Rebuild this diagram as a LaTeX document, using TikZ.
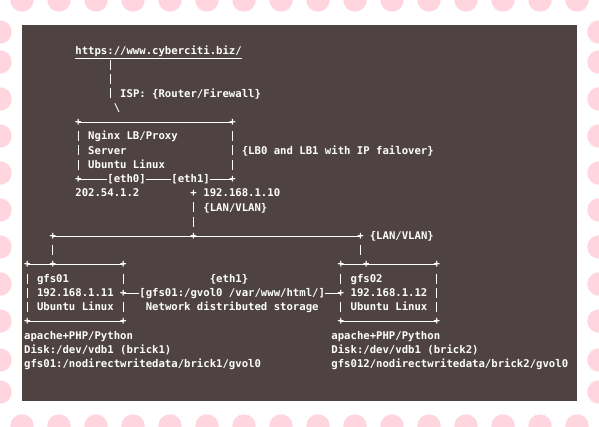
\documentclass[tikz,border=0pt]{standalone}
\usepackage{fontspec}
\setmonofont{DejaVu Sans Mono}
\usepackage{tikz}
\definecolor{board}{RGB}{78,66,67}
\definecolor{dotpink}{RGB}{255,214,224}
\tikzstyle{ascii} = [text=white, inner sep=0pt, anchor=base west,
font=\ttfamily\bfseries\fontsize{10.63pt}{14.25pt}\selectfont]
\tikzstyle{jn} = [text=white, inner sep=0pt,
font=\ttfamily\bfseries\fontsize{10.63pt}{14.25pt}\selectfont]
\tikzstyle{hwire} = [draw=white, line width=1pt]
\tikzstyle{vbar} = [draw=white, line width=1.1pt, dash pattern=on 10pt off 4.25pt,
shorten <=8.75pt, shorten >=9.75pt]

\begin{document}
\begin{tikzpicture}[x=1pt,y=-1pt]
		\useasboundingbox (0,0) rectangle (599,426);
		\clip (0,0) rectangle (599,426);
		\fill[white] (0,0) rectangle (599,426);
		\foreach \x in {22,59,...,577} {
			\fill[dotpink] (\x,0) circle (11.7pt);
			\fill[dotpink] (\x,426) circle (11.7pt);
		}
		\foreach \y in {32,62,99,136,173,210,247,284,321,360,392} {
			\fill[dotpink] (0,\y) circle (11.7pt);
			\fill[dotpink] (599,\y) circle (11.7pt);
		}
		\fill[board] (22,25) rectangle (577,401);
		
		% uplink
		\node[ascii] (url) at (75.2,54.4) {\underline{https://www.cyberciti.biz/}};
		\coordinate (urltap) at (110.4,51);
		\coordinate (isptap) at (110.4,108);
		\node[ascii] (isp) at (120,97.15) {ISP: \{Router/Firewall\}};
		\node[ascii] (bslash) at (113.6,111.4) {\textbackslash};
		
		% load balancer
		\node[jn] (lbtl) at (78.4,122.25) {+};
		\node[jn] (lbtr) at (232.5,122.25) {+};
		\node[jn] (lbbl) at (78.4,179.25) {+};
		\node[jn] (lbbr) at (232.5,179.25) {+};
		\node[ascii] (lbname) at (88,139.9) {Nginx LB/Proxy};
		\node[ascii] (lbrole) at (88,154.15) {Server};
		\node[ascii] (lbos) at (88,168.4) {Ubuntu Linux};
		\node[ascii] (lbnote) at (241.6,154.15) {\{LB0 and LB1 with IP failover\}};
		\node[ascii] (eth0) at (107.2,182.65) {[eth0]};
		\node[ascii] (eth1) at (171.2,182.65) {[eth1]};
		\node[ascii] (pubip) at (75.2,196.9) {202.54.1.2};
		\node[jn] (lbout) at (193.6,193.5) {+};
		\node[ascii] (lanip) at (203.2,196.9) {192.168.1.10};
		\node[ascii] (lantag) at (203.2,211.15) {\{LAN/VLAN\}};
		
		% lan
		\node[jn] (lanl) at (52.8,236.25) {+};
		\node[jn] (lanm) at (193.6,236.25) {+};
		\node[jn] (lanr) at (360.5,236.25) {+};
		\node[ascii] (lantag2) at (369.6,239.65) {\{LAN/VLAN\}};
		\coordinate (g2drop) at (360.5,264.75);
		
		% gfs01
		\node[jn] (g1tl) at (27.2,264.75) {+};
		\node[jn] (g1tm) at (52.8,264.75) {+};
		\node[jn] (g1tr) at (123.2,264.75) {+};
		\node[jn] (g1r) at (123.2,293.25) {+};
		\node[jn] (g1bl) at (27.2,321.75) {+};
		\node[jn] (g1br) at (123.2,321.75) {+};
		\node[ascii] (g1name) at (36.8,282.4) {gfs01};
		\node[ascii] (g1ip) at (36.8,296.65) {192.168.1.11};
		\node[ascii] (g1os) at (36.8,310.9) {Ubuntu Linux};
		\node[ascii] (g1sw) at (24,339.4) {apache+PHP/Python};
		\node[ascii] (g1disk) at (24,353.65) {Disk:/dev/vdb1 (brick1)};
		\node[ascii] (g1brick) at (24,367.9) {gfs01:/nodirectwritedata/brick1/gvol0};
		
		% gfs02
		\node[jn] (g2tl) at (340.8,264.75) {+};
		\node[jn] (g2tm) at (366.4,264.75) {+};
		\node[jn] (g2tr) at (436.8,264.75) {+};
		\node[jn] (g2l) at (340.8,293.25) {+};
		\node[jn] (g2bl) at (340.8,321.75) {+};
		\node[jn] (g2br) at (436.8,321.75) {+};
		\node[ascii] (g2name) at (350.4,282.4) {gfs02};
		\node[ascii] (g2ip) at (350.4,296.65) {192.168.1.12};
		\node[ascii] (g2os) at (350.4,310.9) {Ubuntu Linux};
		\node[ascii] (g2sw) at (331.2,339.4) {apache+PHP/Python};
		\node[ascii] (g2disk) at (331.2,353.65) {Disk:/dev/vdb1 (brick2)};
		\node[ascii] (g2brick) at (331.2,367.9) {gfs012/nodirectwritedata/brick2/gvol0};
		
		% storage link
		\node[ascii] (ethtag) at (209.6,282.4) {\{eth1\}};
		\node[ascii] (gvol) at (139.2,296.65) {[gfs01:/gvol0 /var/www/html/]};
		\node[ascii] (netfs) at (145.6,310.9) {Network distributed storage};
		
		\draw[vbar] (urltap) -- (isptap);
		\draw[hwire] (lbtl.center) -- (lbtr.center);
		\draw[vbar] (lbtl.center) -- (lbbl.center);
		\draw[vbar] (lbtr.center) -- (lbbr.center);
		\draw[hwire] (lbbl.center) -- (lbbl.center -| eth0.west);
		\draw[hwire] (eth0.east |- lbbl.center) -- (eth1.west |- lbbl.center);
		\draw[hwire] (eth1.east |- lbbr.center) -- (lbbr.center);
		\draw[vbar] (lbout.center) -- (lanm.center);
		\draw[hwire] (lanl.center) -- (lanm.center) -- (lanr.center);
		\draw[vbar] (lanl.center) -- (g1tm.center);
		\draw[vbar] (lanr.center) -- (g2drop);
		\draw[hwire] (g1tl.center) -- (g1tm.center) -- (g1tr.center);
		\draw[hwire] (g1bl.center) -- (g1br.center);
		\draw[vbar] (g1tl.center) -- (g1bl.center);
		\draw[vbar] (g1tr.center) -- (g1r.center);
		\draw[vbar] (g1r.center) -- (g1br.center);
		\draw[hwire] (g2tl.center) -- (g2tm.center) -- (g2tr.center);
		\draw[hwire] (g2bl.center) -- (g2br.center);
		\draw[vbar] (g2tr.center) -- (g2br.center);
		\draw[vbar] (g2tl.center) -- (g2l.center);
		\draw[vbar] (g2l.center) -- (g2bl.center);
		\draw[hwire] (g1r.center) -- (g1r.center -| gvol.west);
		\draw[hwire] (gvol.east |- g2l.center) -- (g2l.center);
\end{tikzpicture}
\end{document}
